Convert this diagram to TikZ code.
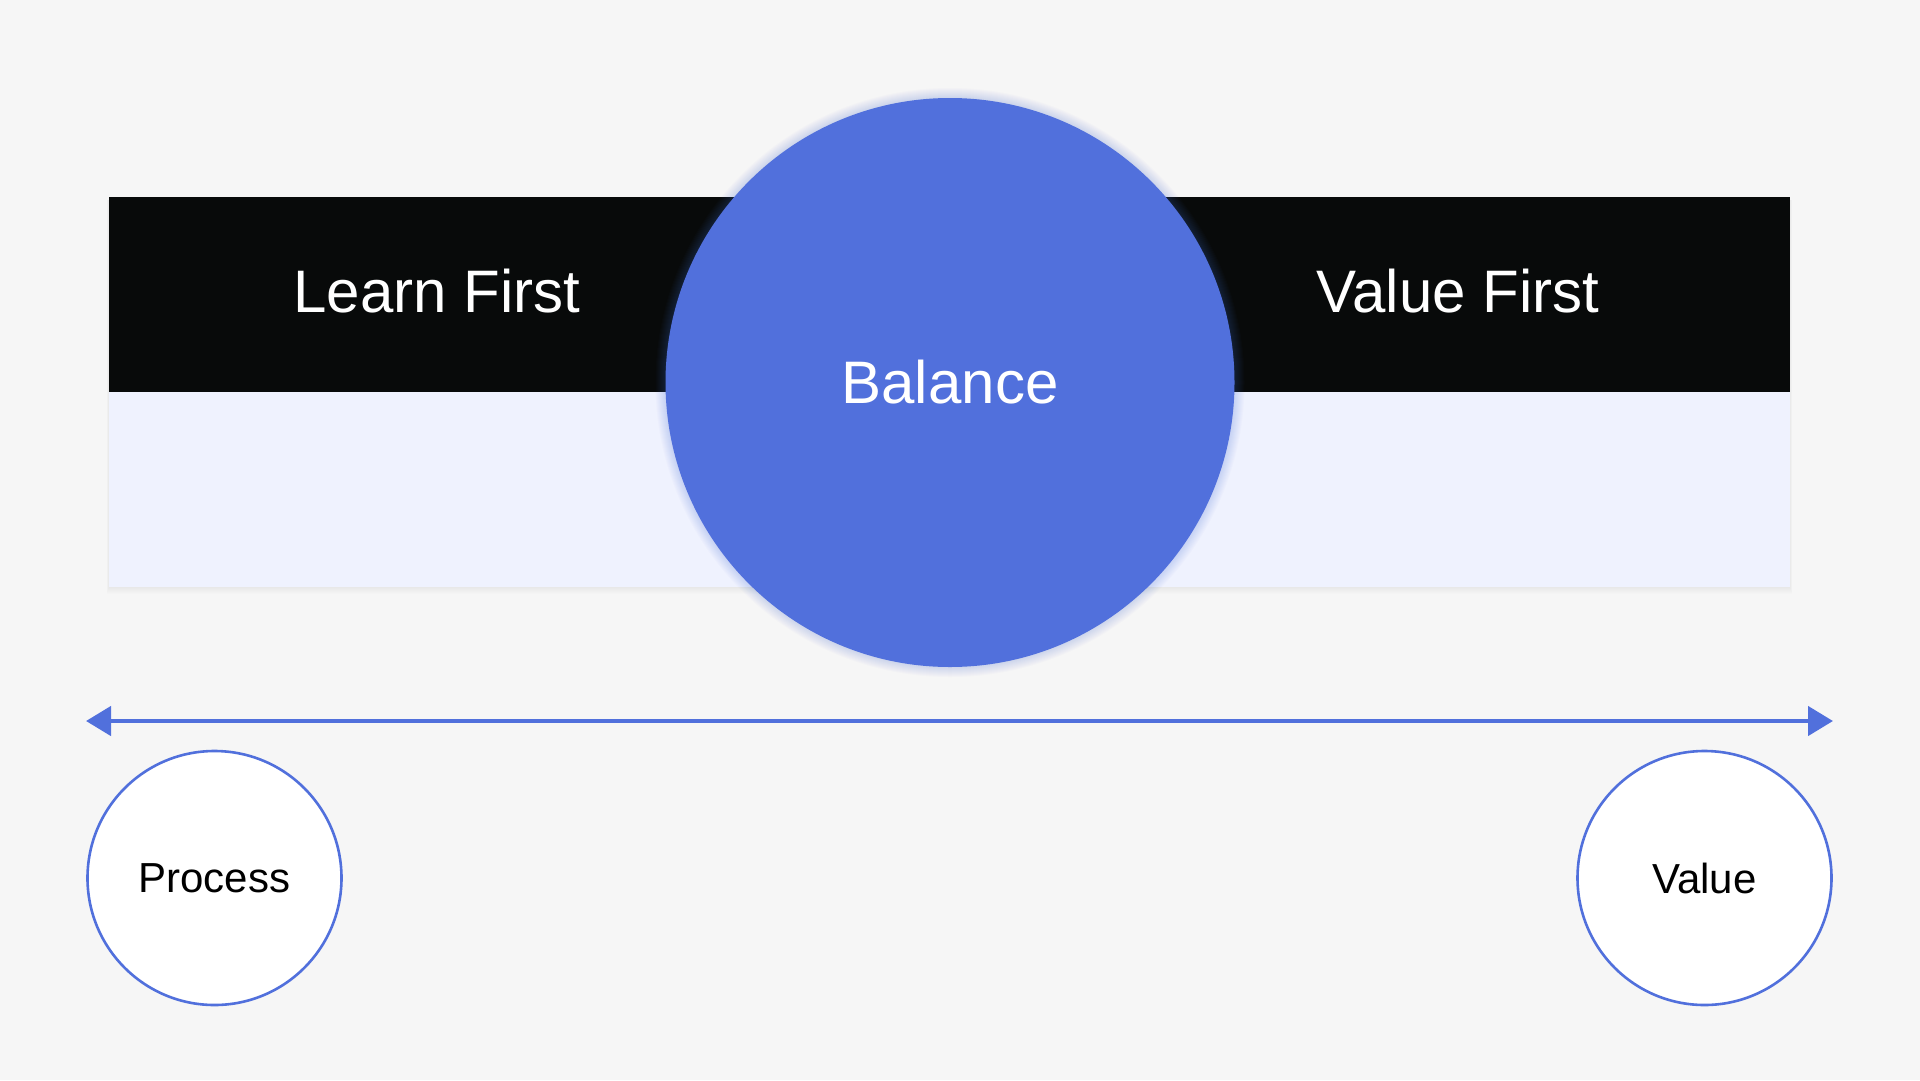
\documentclass[tikz,border=0pt]{standalone}
\usepackage{fontspec}
\setmainfont{Liberation Sans}
\usetikzlibrary{arrows.meta}
\definecolor{bg}{HTML}{F6F6F6}
\definecolor{brand}{HTML}{5170DC}
\definecolor{band}{HTML}{080A0A}
\definecolor{pale}{HTML}{EFF2FE}
\tikzset{
  bigtext/.style={text=white, font=\fontsize{60}{72}\selectfont, inner sep=0pt},
  smallcircle/.style={circle, draw=brand, line width=2.6pt, fill=white, minimum size=254pt, inner sep=0pt, text=black, font=\fontsize{42}{50}\selectfont},
  bigcircle/.style={circle, fill=brand, minimum size=569pt, inner sep=0pt, text=white, font=\fontsize{60}{72}\selectfont},
  axis/.style={draw=brand, line width=4.5pt, {Triangle[length=25pt,width=29pt]}-{Triangle[length=25pt,width=29pt]}}
}
\begin{document}
\begin{tikzpicture}[x=1pt,y=-1pt]
  \fill[bg] (0,0) rectangle (1920,1080);
  \useasboundingbox (0,0) rectangle (1920,1080);
  % bar shadow (soft, below)
  \foreach \i in {1,...,7}
    \fill[black, opacity=0.008] (109-\i/3,200) rectangle (1790+\i/3,587+\i);
  % bar bands
  \fill[band] (109,197) rectangle (1790,392);
  \fill[pale] (109,392) rectangle (1790,587);
  % glow around central circle
  \foreach \i in {1,...,10}
    \fill[brand, opacity=0.025] (950,382.5) circle ({284.5+\i});
  \node[bigcircle] (balance) at (950,382.5) {Balance};
  \node[bigtext] (learn) at (437,291) {Learn First};
  \node[bigtext] (valuefirst) at (1458,291) {Value First};
  % axis
  \coordinate (axl) at (86,721);
  \coordinate (axr) at (1833,721);
  \draw[axis] (axl) -- (axr);
  \node[smallcircle] (process) at (214.5,878) {Process};
  \node[smallcircle] (value) at (1704.5,878) {Value};
\end{tikzpicture}
\end{document}
